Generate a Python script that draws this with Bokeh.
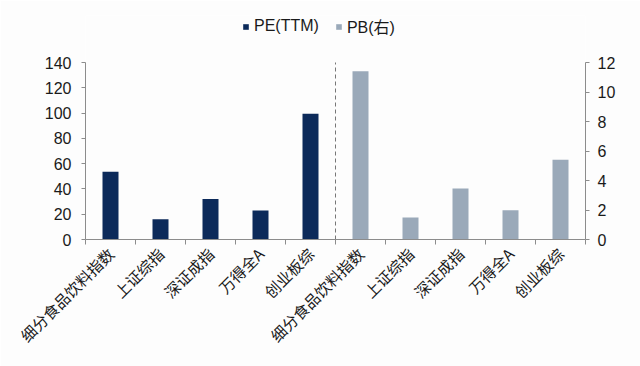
import math
from bokeh.plotting import figure
from bokeh.models import (Range1d, LinearAxis, FixedTicker, Legend, LegendItem,
                          ColumnDataSource)
from bokeh.embed import file_html
from bokeh.resources import INLINE

categories = ["细分食品饮料指数", "上证综指", "深证成指", "万得全A", "创业板综"]
pe_values = [53.5, 16, 32, 23, 99.5]
pb_values = [11.4, 1.5, 3.45, 1.98, 5.4]
left_ticks = [0, 20, 40, 60, 80, 100, 120, 140]
right_ticks = [0, 2, 4, 6, 8, 10, 12]

n = len(categories)
pe_x = [i + 0.5 for i in range(n)]
pb_x = [n + i + 0.5 for i in range(n)]
all_labels = categories + categories
centers = pe_x + pb_x
bounds = list(range(0, 2 * n + 1))

NAVY = "#0c2a5a"
GRAY = "#9aa9b9"
AXIS = "#8c8c8c"
NUM_FONT = "Liberation Sans"
CJK_FONT = "Noto Sans CJK SC"

# frame extends above the axes' top so the legend can live inside it
FRAME_TOP, AXIS_TOP, FRAME_BOTTOM = 15, 62, 239
scale = (FRAME_BOTTOM - FRAME_TOP) / (FRAME_BOTTOM - AXIS_TOP)
left_max, right_max = left_ticks[-1], right_ticks[-1]

p = figure(width=640, height=366, output_backend="svg", toolbar_location=None,
           x_range=Range1d(0, 2 * n), y_range=Range1d(0, left_max * scale),
           min_border_left=85, min_border_right=55, min_border_top=FRAME_TOP,
           min_border_bottom=366 - FRAME_BOTTOM)
p.extra_y_ranges = {"pb": Range1d(0, right_max * scale)}
p.outline_line_color = None
p.xgrid.visible = False
p.ygrid.visible = False
p.background_fill_color = "#fdfdfd"
p.border_fill_color = "#fdfdfd"

src_pe = ColumnDataSource(dict(x=pe_x, top=pe_values))
src_pb = ColumnDataSource(dict(x=pb_x, top=pb_values))
r_pe = p.vbar(x="x", top="top", width=0.32, bottom=0, source=src_pe,
              fill_color=NAVY, line_color=None)
r_pb = p.vbar(x="x", top="top", width=0.32, bottom=0, source=src_pb,
              fill_color=GRAY, line_color=None, y_range_name="pb")

# dashed separator between the two groups
p.segment(x0=[n], y0=[0], x1=[n], y1=[left_max], line_color="#777777",
          line_dash="4 3", line_width=1)

# x axis: labels at centers, minor ticks at boundaries
xa = p.xaxis[0]
xa.ticker = FixedTicker(ticks=centers, minor_ticks=bounds)
xa.major_label_overrides = {c: lab for c, lab in zip(centers, all_labels)}
xa.major_tick_out = 0
xa.major_tick_in = 0
xa.minor_tick_out = 5
xa.minor_tick_in = 0
xa.minor_tick_line_color = AXIS
xa.axis_line_color = AXIS
xa.major_label_orientation = math.pi / 4
xa.major_label_text_font = CJK_FONT
xa.major_label_text_font_size = "15.5px"
xa.major_label_text_color = "#1a1a1a"
xa.major_label_standoff = 6

ya = p.yaxis[0]
ya.ticker = FixedTicker(ticks=left_ticks)
ya.bounds = (0, left_max)
ya.minor_tick_line_color = None
ya.major_tick_out = 4
ya.major_tick_in = 0
ya.major_tick_line_color = AXIS
ya.axis_line_color = AXIS
ya.major_label_text_font = NUM_FONT
ya.major_label_text_font_size = "16px"
ya.major_label_text_color = "#1a1a1a"
ya.major_label_standoff = 10

ra = LinearAxis(y_range_name="pb", ticker=FixedTicker(ticks=right_ticks),
                bounds=(0, right_max))
ra.minor_tick_line_color = None
ra.major_tick_out = 4
ra.major_tick_in = 0
ra.major_tick_line_color = AXIS
ra.axis_line_color = AXIS
ra.major_label_text_font = NUM_FONT
ra.major_label_text_font_size = "16px"
ra.major_label_text_color = "#1a1a1a"
ra.major_label_standoff = 8
p.add_layout(ra, "right")

legend = Legend(items=[LegendItem(label="PE(TTM)", renderers=[r_pe]),
                       LegendItem(label="PB(右)", renderers=[r_pb])],
                orientation="horizontal", location=(157, 201),
                glyph_width=7, glyph_height=7, label_standoff=5, spacing=16,
                padding=0, margin=0, border_line_color=None,
                background_fill_alpha=0,
                label_text_font=f"{NUM_FONT}, {CJK_FONT}",
                label_text_font_size="16px", label_text_color="#1a1a1a")
p.add_layout(legend, "center")

open("out.html", "w").write(file_html(p, INLINE))
